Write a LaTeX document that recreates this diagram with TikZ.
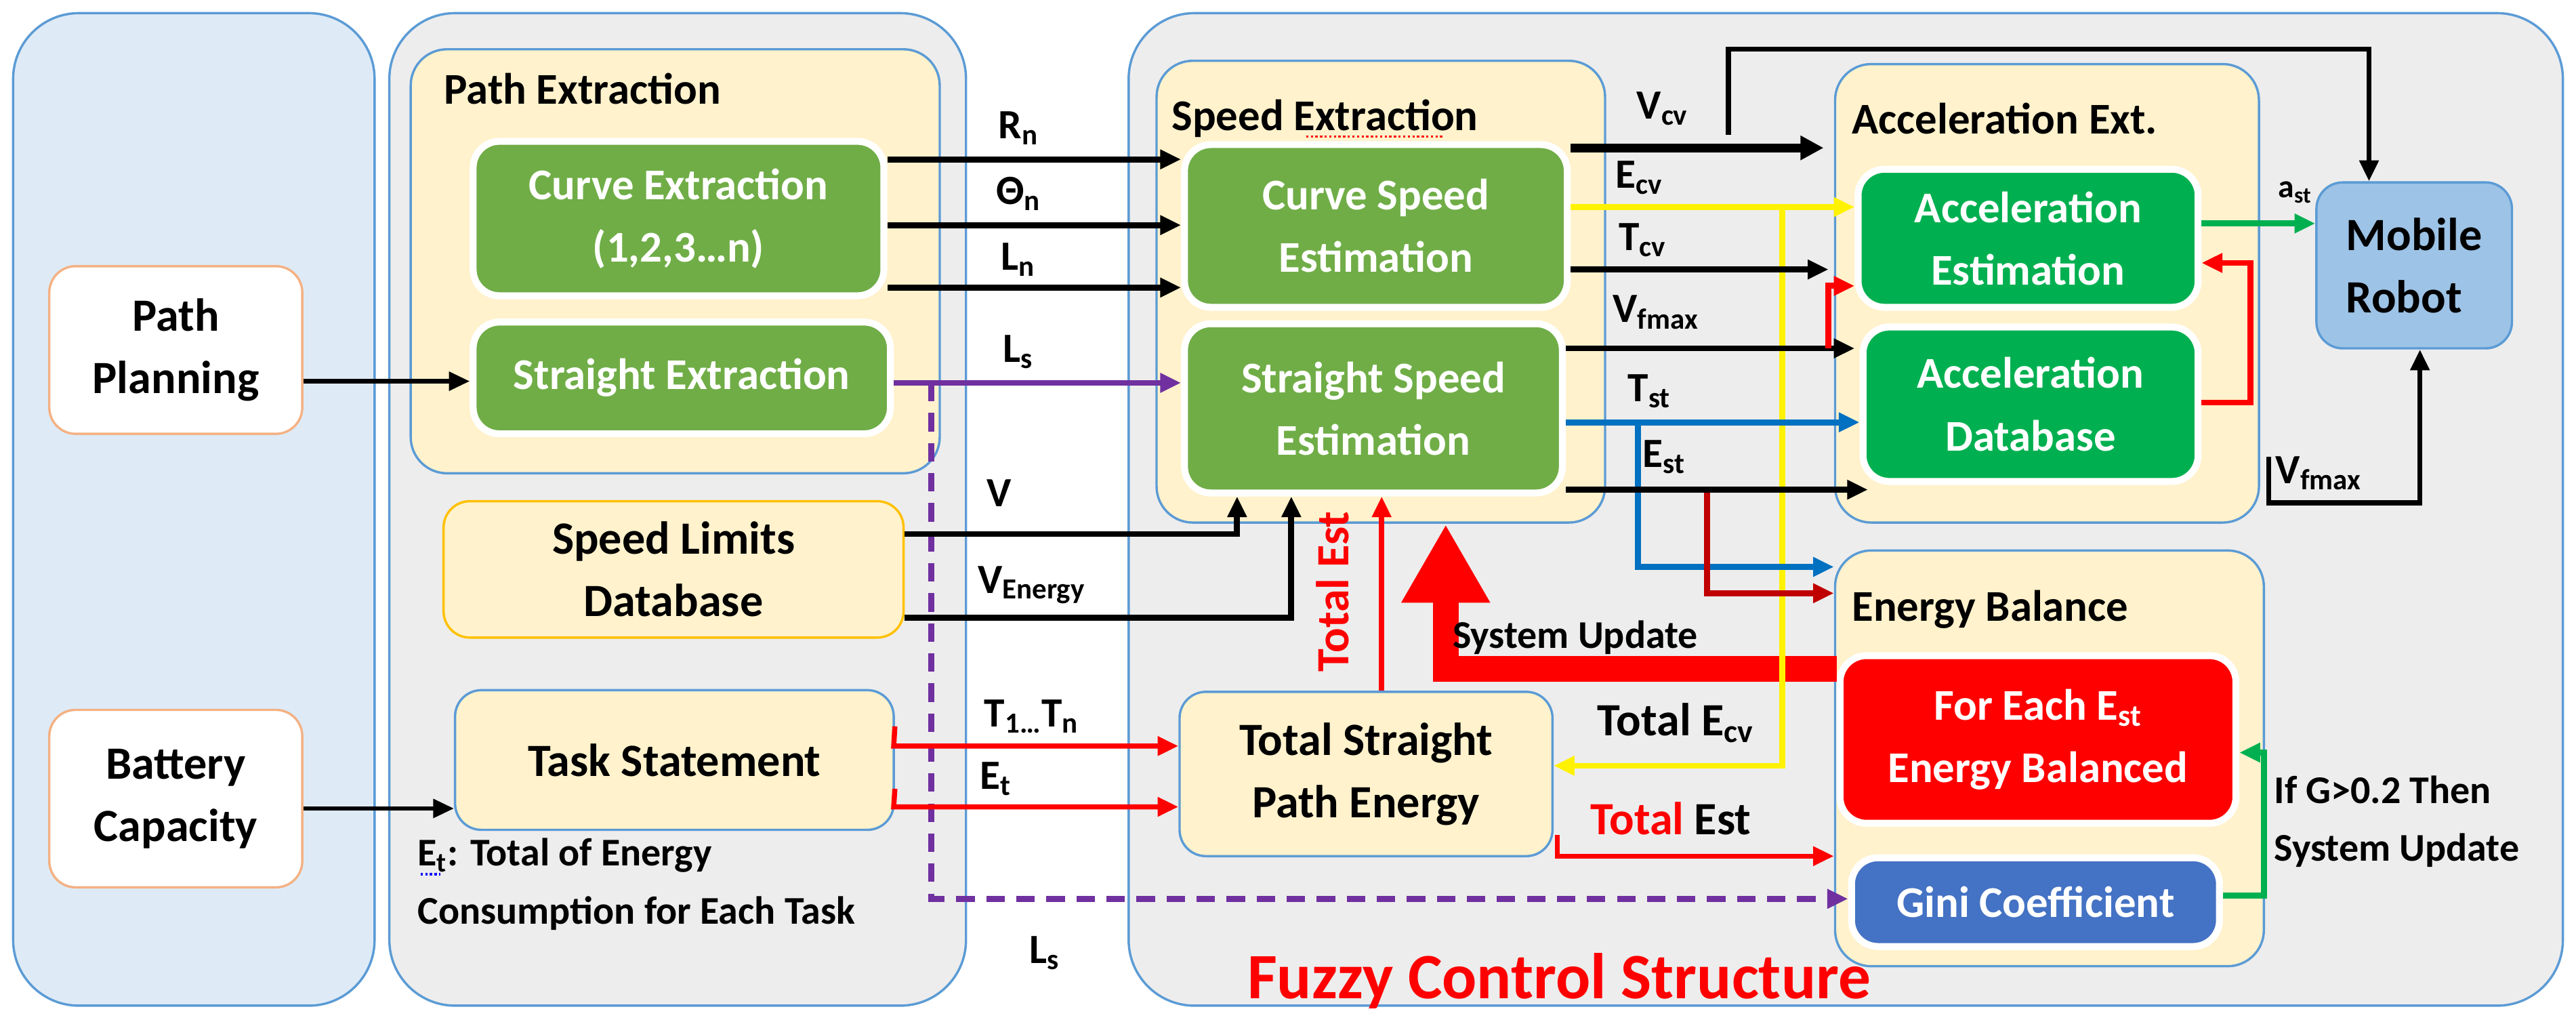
\documentclass[tikz,border=0pt]{standalone}
\usepackage{fontspec}
\setmainfont{Carlito}
\usetikzlibrary{arrows.meta,fit,calc}
\definecolor{pblue}{HTML}{5B9BD5}
\definecolor{lblue}{HTML}{DEEBF7}
\definecolor{pgray}{HTML}{EDEDED}
\definecolor{pyel}{HTML}{FFF2CC}
\definecolor{gA}{HTML}{70AD47}
\definecolor{gB}{HTML}{00B050}
\definecolor{rob}{HTML}{9DC3E6}
\definecolor{gini}{HTML}{4472C4}
\definecolor{orng}{HTML}{F4B183}
\definecolor{gold}{HTML}{FFC000}
\definecolor{purp}{HTML}{7030A0}
\definecolor{dred}{HTML}{C00000}
\definecolor{blu}{HTML}{0070C0}
\begin{document}
\begin{tikzpicture}[x=0.025cm,y=-0.025cm,
 panel/.style={draw=pblue,line width=1pt,rounded corners=1cm,inner sep=0pt},
 sub/.style={draw=pblue,fill=pyel,line width=1pt,rounded corners=0.55cm,inner sep=0pt},
 gbox/.style={draw=white,line width=3pt,rounded corners=0.4cm,inner sep=0pt},
 gtxt/.style={text=white,font=\fontsize{19}{27}\selectfont\bfseries,align=center,inner sep=0pt},
 btxt/.style={font=\fontsize{20}{27}\selectfont\bfseries,align=center,inner sep=0pt},
 wbox/.style={fill=white,draw=orng,line width=1pt,rounded corners=0.4cm,inner sep=0pt},
 ybox/.style={fill=pyel,draw=pblue,line width=1pt,rounded corners=0.4cm,inner sep=0pt},
 ttl/.style={font=\fontsize{19}{22}\selectfont\bfseries,anchor=west,inner sep=0pt},
 lab/.style={font=\fontsize{18}{20}\selectfont\bfseries,inner sep=0pt},
 ar/.style={line width=2.6pt,-{Triangle[length=9pt,width=8pt]}},
]
\useasboundingbox (0,0) rectangle (1568,623);
\fill[white] (0,0) rectangle (1568,623);
% panels
\node[panel,fill=lblue,fit={(8,8)(228,612)}] (p1) {};
\node[panel,fill=pgray,fit={(237,8)(588,612)}] (p2) {};
\node[panel,fill=pgray,fit={(687,8)(1560,612)}] (p3) {};
% sub panels
\node[sub,fit={(250,30)(572,288)}] (pe) {};
\node[ttl] at (270,54) {Path Extraction};
\node[sub,fit={(704,37)(977,318)}] (se) {};
\node[ttl] at (713,72) {Speed Extraction};
\draw[red,densely dotted,line width=1pt] (795,83) -- (878,83);
\node[sub,fit={(1117,39)(1375,318)}] (ae) {};
\node[ttl] at (1127,72) {Acceleration Ext.};
\node[sub,fit={(1117,335)(1378,588)}] (eb) {};
\node[ttl] at (1127,371) {Energy Balance};
% boxes
\node[gbox,fill=gA,fit={(288,86)(538,180)}] (ce) {};
\node[gtxt] at (ce) {Curve Extraction\\(1,2,3\dots n)};
\node[gbox,fill=gA,fit={(288,196)(542,264)}] (sx) {};
\node[gtxt] at (sx) {Straight Extraction};
\node[gbox,fill=gA,fit={(721,88)(954,187)}] (cs) {};
\node[gtxt] at (cs) {Curve Speed\\Estimation};
\node[gbox,fill=gA,fit={(721,197)(951,300)}] (ss) {};
\node[gtxt] at (ss) {Straight Speed\\Estimation};
\node[gbox,fill=gB,fit={(1131,103)(1338,187)}] (aes) {};
\node[gtxt] at (aes) {Acceleration\\Estimation};
\node[gbox,fill=gB,fit={(1134,199)(1338,293)}] (adb) {};
\node[gtxt] at (adb) {Acceleration\\Database};
\node[gbox,fill=red,fit={(1120,399)(1361,501)}] (fe) {};
\node[gtxt] at (fe) {For Each E\textsubscript{st}\\Energy Balanced};
\node[gbox,fill=gini,fit={(1127,522)(1351,576)}] (gc) {};
\node[gtxt] at (gc) {Gini Coefficient};
\node[draw=pblue,fill=rob,line width=1pt,rounded corners=0.4cm,inner sep=0pt,fit={(1410,111)(1529,212)}] (mr) {};
\node[btxt,align=left] at (mr) {Mobile\\Robot};
\node[wbox,fit={(30,162)(184,264)}] (pp) {};
\node[btxt] at (pp) {Path\\Planning};
\node[wbox,fit={(30,432)(184,540)}] (bc) {};
\node[btxt] at (bc) {Battery\\Capacity};
\node[ybox,draw=gold,fit={(270,305)(550,388)}] (sl) {};
\node[btxt] at (sl) {Speed Limits\\Database};
\node[ybox,fit={(277,420)(544,505)}] (ts) {};
\node[btxt] at (ts) {Task Statement};
\node[ybox,fit={(718,421)(945,521)}] (tp) {};
\node[btxt] at (tp) {Total Straight\\Path Energy};
\node[font=\fontsize{17}{25}\selectfont\bfseries,align=left,anchor=north west,inner sep=0pt] at (254,510) {E\textsubscript{t}: Total of Energy\\Consumption for Each Task};
\draw[blue,densely dotted,line width=1pt] (256,532) -- (268,532);
% left arrows
\draw[ar,line width=1.8pt] (pp.east|-0,232) -- (sx.west|-0,232);
\draw[ar,line width=1.8pt] (bc.east|-0,492) -- (ts.west|-0,492);
% curve extraction -> curve speed
\draw[ar] (ce.east|-0,97) -- (cs.west|-0,97);
\node[lab] at (620,78) {R\textsubscript{n}};
\draw[ar] (ce.east|-0,137) -- (cs.west|-0,137);
\node[lab] at (620,118) {Θ\textsubscript{n}};
\draw[ar] (ce.east|-0,175) -- (cs.west|-0,175);
\node[lab] at (620,158) {L\textsubscript{n}};
\draw[ar,purp] (sx.east|-0,233) -- (ss.west|-0,233);
\node[lab] at (620,214) {L\textsubscript{s}};
\draw[purp,line width=2.6pt,dash pattern=on 8pt off 5pt,-{Triangle[length=9pt,width=8pt]}] (567,233) -- (567,547) -- (gc.west|-0,547);
\node[lab] at (636,580) {L\textsubscript{s}};
% speed limits
\draw[ar] (sl.east|-0,325) -- (753,325) -- ({753,0}|-ss.south);
\node[lab] at (608,300) {V};
\draw[ar] (sl.east|-0,376) -- (786,376) -- ({786,0}|-ss.south);
\node[lab] at (628,356) {V\textsubscript{Energy}};
% task statement -> total straight
\draw[red,line width=2.2pt,-{Triangle[length=9pt,width=8pt]}] (ts.east|-0,442) -- (544,454) -- (tp.west|-0,454);
\node[lab] at (628,436) {T\textsubscript{1…}T\textsubscript{n}};
\draw[red,line width=2.2pt,-{Triangle[length=9pt,width=8pt]}] (ts.east|-0,480) -- (544,491) -- (tp.west|-0,491);
\node[lab] at (606,474) {E\textsubscript{t}};
% total est vertical
\draw[red,line width=2.2pt,-{Triangle[length=9pt,width=8pt]}] ({841,0}|-tp.north) -- ({841,0}|-ss.south);
\node[red,font=\fontsize{20}{22}\selectfont\bfseries,rotate=90,inner sep=0pt] at (811,360) {Total Est};
% big red system update
\draw[red,line width=11pt,-{Triangle[length=34pt,width=36pt]}] (fe.west|-0,407) -- (880,407) -- (880,319);
\node[font=\fontsize{17}{20}\selectfont\bfseries,anchor=west,inner sep=0pt] at (884,388) {System Update};
% speed estimation outputs
\draw[line width=3.8pt,-{Triangle[length=10pt,width=10pt]}] (cs.east|-0,90) -- (1110,90);
\node[lab] at (1012,66) {V\textsubscript{cv}};
\draw[line width=2.2pt,-{Triangle[length=9pt,width=8pt]}] (1052,82) -- (1052,30) -- (1442,30) -- ({1442,0}|-mr.north);
\draw[ar,yellow] (1085,126) -- (1085,466) -- (tp.east|-0,466);
\draw[ar,yellow] (cs.east|-0,126) -- (aes.west|-0,126);
\node[lab] at (998,108) {E\textsubscript{cv}};
\draw[ar] (cs.east|-0,164) -- (1113,164);
\node[lab] at (1000,146) {T\textsubscript{cv}};
\draw[ar] (ss.east|-0,212) -- (aes.west|-0,212);
\node[lab] at (1008,190) {V\textsubscript{fmax}};
\draw[ar,blu] (997,257) -- (997,345) -- (eb.west|-0,345);
\draw[ar,blu] (ss.east|-0,257) -- (adb.west|-0,257);
\node[lab] at (1004,238) {T\textsubscript{st}};
\draw[ar,dred] (1039,298) -- (1039,361) -- (eb.west|-0,361);
\draw[ar] (ss.east|-0,298) -- (1137,298);
\node[lab] at (1013,278) {E\textsubscript{st}};
\node[btxt] at (1020,440) {Total E\textsubscript{cv}};
% acceleration red loops
\draw[red,line width=2.6pt,-{Triangle[length=9pt,width=8pt]}] (adb.east|-0,245) -- (1370,245) -- (1370,160) -- (aes.east|-0,160);
\draw[red,line width=2.6pt,-{Triangle[length=9pt,width=8pt]}] (1113,212) -- (1113,174) -- (aes.west|-0,174);
% robot
\draw[gB,line width=2.6pt,-{Triangle[length=9pt,width=8pt]}] (aes.east|-0,136) -- (mr.west|-0,136);
\node[font=\fontsize{14}{16}\selectfont\bfseries,inner sep=0pt] at (1397,117) {a\textsubscript{st}};
\draw[line width=2.2pt,-{Triangle[length=9pt,width=8pt]}] (1381,278) -- (1381,306) -- (1473,306) -- ({1473,0}|-mr.south);
\node[lab,anchor=west] at (1385,288) {V\textsubscript{fmax}};
% total est to gini
\draw[red,line width=2.2pt,-{Triangle[length=9pt,width=8pt]}] (948,508) -- (948,521) -- (eb.west|-0,521);
\node[btxt] at (1017,498) {\textcolor{red}{Total} Est};
% gini -> for each
\draw[gB,line width=2.6pt,-{Triangle[length=9pt,width=8pt]}] (gc.east|-0,545) -- (1378,545) -- (1378,458) -- (fe.east|-0,458);
\node[font=\fontsize{17}{25}\selectfont\bfseries,align=left,anchor=west,inner sep=0pt] at (1384,500) {If G>0.2 Then\\System Update};
\node[red,font=\fontsize{28}{30}\selectfont\bfseries] at (949,597) {Fuzzy Control Structure};
\end{tikzpicture}
\end{document}
